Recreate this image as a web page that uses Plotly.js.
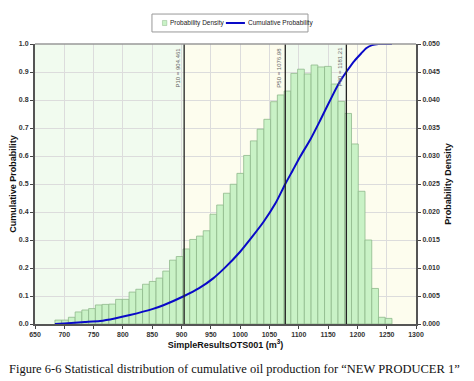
<!DOCTYPE html>
<html>
<head>
<meta charset="utf-8">
<script src="https://cdn.plot.ly/plotly-3.0.1.min.js"></script>
<style>html,body{margin:0;padding:0;background:#fff;}#chart{width:474px;height:381px;}</style>
</head>
<body>
<div id="chart"></div>
<script>
// Histogram bins (centres, m3) and probability density
const binCenters = [689.75,701.25,712.75,724.25,735.75,747.25,758.75,770.25,781.75,793.25,
  804.75,816.25,827.75,839.25,850.75,862.25,873.75,885.25,896.75,908.25,
  919.75,931.25,942.75,954.25,965.75,977.25,988.75,1000.25,1011.75,1023.25,
  1034.75,1046.25,1057.75,1069.25,1080.75,1092.25,1103.75,1115.25,1126.75,1138.25,
  1149.75,1161.25,1172.75,1184.25,1195.75,1207.25,1218.75,1230.25,1241.75,1253.25];
const binWidth = 11.5;
const density = [0.0007,0.0007,0.0012,0.00215,0.0025,0.00275,0.0034,0.0035,0.00355,0.0044,
  0.0044,0.0057,0.0062,0.0071,0.0076,0.0082,0.00945,0.0114,0.01205,0.0134,
  0.0151,0.0157,0.01665,0.0196,0.02125,0.02335,0.02495,0.0269,0.0301,0.0327,
  0.0348,0.03655,0.0397,0.0409,0.0416,0.04475,0.0455,0.04465,0.04625,0.0459,
  0.046,0.04285,0.03975,0.0376,0.03215,0.0237,0.015,0.00635,0.0012,0.001];
// Cumulative probability curve
const cumX = [684,700,735,761,786,812,850,869,904.5,930,954,975,1000,1020,1040,1060,1077,1090,1103,1120,1136,1159,1170,1181,1195,1206,1215,1225,1236,1259];
const cumY = [0,0.002,0.007,0.011,0.02,0.032,0.053,0.067,0.10,0.128,0.163,0.203,0.258,0.31,0.365,0.43,0.50,0.55,0.60,0.66,0.725,0.822,0.865,0.90,0.94,0.965,0.985,0.996,1.0,1.0];
// Percentile markers
const pNames = ["P10","P50","P90"];
const pValues = [904.461,1076.98,1181.21];
const pLabels = ["904.461","1076.98","1181.21"];
// Background bands
const bandEdges = [650,904.461,1076.98,1181.21,1300];
const bandColors = ["#f1fbef","#fdfdee","#f1fbef","#fdfdee"];
const xTicks = [650,700,750,800,850,900,950,1000,1050,1100,1150,1200,1250,1300];
const seriesNames = ["Probability Density","Cumulative Probability"];

const font = "Liberation Sans, Arial, sans-serif";
const barColor = '#c9f2c6', barLine = '#8fb98c', curveColor = '#0a0ac8';

const traces = [
  {type:'bar', name:seriesNames[0], x:binCenters, y:density, width:binWidth, yaxis:'y',
   marker:{color:barColor, line:{color:barLine, width:0.8}}},
  {type:'scatter', mode:'lines', name:seriesNames[1], x:cumX, y:cumY, yaxis:'y2',
   line:{color:curveColor, width:2, shape:'spline', smoothing:0.6}}
];

const shapes = [];
for (let i=0;i<bandColors.length;i++){
  shapes.push({type:'rect', xref:'x', yref:'paper', x0:bandEdges[i], x1:bandEdges[i+1], y0:0, y1:1,
    fillcolor:bandColors[i], line:{width:0}, layer:'below'});
}
const annotations = [];
for (let i=0;i<pValues.length;i++){
  shapes.push({type:'line', xref:'x', yref:'paper', x0:pValues[i], x1:pValues[i], y0:0, y1:1,
    line:{color:'#222', width:1.3}, layer:'above'});
  annotations.push({x:pValues[i], xref:'x', y:0.995, yref:'paper', xanchor:'right', yanchor:'top',
    text:pNames[i]+' = '+pLabels[i], textangle:-90, showarrow:false, xshift:-1,
    font:{family:font, size:6, color:'#666'}});
}
// top frame line
shapes.push({type:'line', xref:'paper', yref:'paper', x0:0, x1:1, y0:1, y1:1, line:{color:'#999', width:1.5}});
// manual legend
shapes.push({type:'rect', xref:'paper', yref:'paper', x0:0.307, x1:0.7165, y0:1.043, y1:1.107,
  line:{color:'#999', width:1}, fillcolor:'#fff'});
shapes.push({type:'rect', xref:'paper', yref:'paper', x0:0.3345, x1:0.346, y0:1.066, y1:1.084,
  line:{color:barLine, width:0.5}, fillcolor:barColor});
shapes.push({type:'line', xref:'paper', yref:'paper', x0:0.501, x1:0.551, y0:1.075, y1:1.075,
  line:{color:curveColor, width:2}});
annotations.push({x:0.348, xref:'paper', y:1.075, yref:'paper', xanchor:'left', yanchor:'middle',
  text:seriesNames[0], showarrow:false, font:{family:font, size:6.5, color:'#222'}});
annotations.push({x:0.554, xref:'paper', y:1.075, yref:'paper', xanchor:'left', yanchor:'middle',
  text:seriesNames[1], showarrow:false, font:{family:font, size:6.5, color:'#222'}});
// caption
annotations.push({x:-0.0735, xref:'paper', y:-0.16, yref:'paper', xanchor:'left', yanchor:'middle',
  text:'Figure 6-6 Statistical distribution of cumulative oil production for “NEW PRODUCER 1”',
  showarrow:false, font:{family:'Liberation Serif, Times New Roman, serif', size:12.5, color:'#111'}});

const tickFont = {family:font, size:7, color:'#333', weight:'bold'};
const titleFont = {family:font, size:9, color:'#111', weight:'bold'};
const layout = {
  width:474, height:381,
  margin:{l:35, r:58, t:44, b:57},
  paper_bgcolor:'#fff', plot_bgcolor:'rgba(0,0,0,0)',
  bargap:0, showlegend:false,
  xaxis:{range:[650,1300], tickvals:xTicks, ticks:'outside', ticklen:3, tickcolor:'#444',
    showgrid:true, gridcolor:'#dcdcdc', gridwidth:1, showline:true, linecolor:'#555', linewidth:1.5,
    zeroline:false, tickfont:tickFont,
    title:{text:'SimpleResultsOTS001 (m<sup>3</sup>)', standoff:2, font:titleFont}},
  yaxis:{range:[0,0.05], dtick:0.005, tickformat:'.3f', side:'right', ticks:'outside', ticklen:3, tickcolor:'#444',
    showgrid:true, gridcolor:'#dcdcdc', gridwidth:1, showline:true, linecolor:'#555', linewidth:2,
    zeroline:false, tickfont:tickFont,
    title:{text:'Probability Density', standoff:6, font:titleFont}},
  yaxis2:{range:[0,1], dtick:0.1, tickformat:'.1f', overlaying:'y', side:'left', ticks:'outside', ticklen:3,
    tickcolor:'#444', showgrid:false, showline:true, linecolor:'#555', linewidth:2, zeroline:false,
    tickfont:tickFont,
    title:{text:'Cumulative Probability', standoff:1, font:titleFont}},
  shapes:shapes,
  annotations:annotations
};
Plotly.newPlot('chart', traces, layout, {displayModeBar:false, staticPlot:true});
</script>
</body>
</html>
